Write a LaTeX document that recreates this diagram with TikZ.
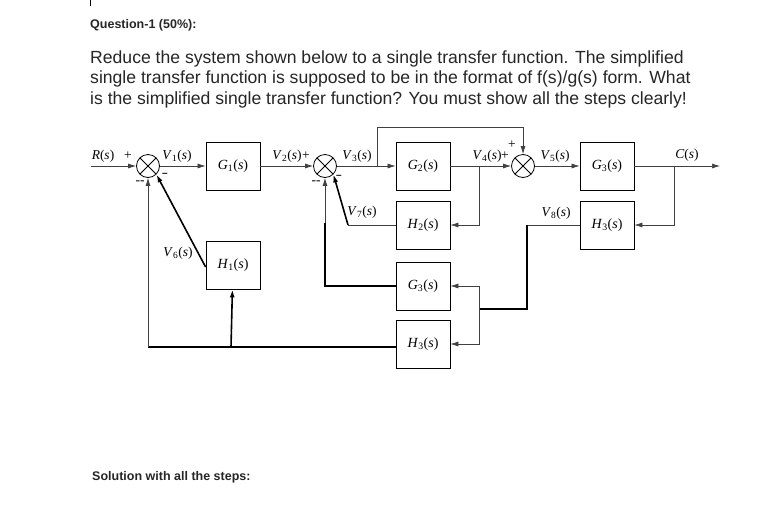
\documentclass[tikz,border=0pt]{standalone}
\usepackage{fontspec}
\setmainfont{Liberation Sans}
\newfontfamily\tms{Liberation Serif}
\usetikzlibrary{arrows.meta}
\newcommand{\tfn}[2]{\textit{#1}\textsubscript{#2}(\textit{s})}
\begin{document}
\begin{tikzpicture}[x=1pt,y=-1pt,
  blk/.style={draw,line width=0.8pt,minimum width=54pt,minimum height=48pt,inner sep=0,font=\tms\fontsize{14}{14}\selectfont},
  sm/.style={draw,circle,line width=0.8pt,minimum size=23pt,inner sep=0,path picture={\draw (path picture bounding box.north west)--(path picture bounding box.south east) (path picture bounding box.north east)--(path picture bounding box.south west);}},
  lb/.style={font=\tms\fontsize{13.5}{13.5}\selectfont,inner sep=1pt},
  ln/.style={line width=0.7pt,draw=black!75},
  tk/.style={line width=1.6pt},
  ar/.style={-{Latex[length=8pt,width=5pt]}},
  txt/.style={anchor=west,inner sep=0,font=\fontsize{17.6}{20}\selectfont,text=black!85}]
\useasboundingbox (0,0) rectangle (767,512);
\fill[white] (0,0) rectangle (767,512);
\draw[line width=0.6pt] (90,0) -- (90,6);
\node[txt,font=\bfseries\fontsize{12.5}{14}\selectfont] (q) at (90,25) {Question-1 (50\%):};
\node[txt] (p1) at (90,59) {Reduce the system shown below to a single transfer function. The simplified};
\node[txt] (p2) at (90,79) {single transfer function is supposed to be in the format of f(s)/g(s) form. What};
\node[txt] (p3) at (90,100) {is the simplified single transfer function? You must show all the steps clearly!};
\node[txt,font=\bfseries\fontsize{12.5}{14}\selectfont] (sol) at (92,477) {Solution with all the steps:};

\node[sm] (s1) at (148,166) {};
\node[sm] (s2) at (325,166) {};
\node[sm] (s3) at (523,166) {};
\node[blk] (g1) at (233,166) {\tfn{G}{1}};
\node[blk] (h1) at (233,265) {\tfn{H}{1}};
\node[blk] (g2) at (423,166) {\tfn{G}{2}};
\node[blk] (h2) at (423,225) {\tfn{H}{2}};
\node[blk] (g3m) at (423,286) {\tfn{G}{3}};
\node[blk] (h3l) at (423,344) {\tfn{H}{3}};
\node[blk] (g3) at (607,166) {\tfn{G}{3}};
\node[blk] (h3) at (607,225) {\tfn{H}{3}};

\coordinate (rin) at (91,166);
\coordinate (cout) at (720,166);
\coordinate (ff) at (377,166);
\coordinate (t4) at (479,166);
\coordinate (tc) at (674,166);
\coordinate (v7) at (348,225);
\coordinate (v8a) at (527,225);
\coordinate (v8b) at (527,309);
\coordinate (v8c) at (479,309);
\coordinate (g3k) at (325,223);
\coordinate (h3a) at (148,347);
\coordinate (h1b) at (231,347);

\draw[ln,ar] (rin) -- (s1);
\draw[ln,ar] (s1) -- (g1);
\draw[ln,ar] (g1) -- (s2);
\draw[ln,ar] (s2) -- (g2);
\draw[ln,ar] (ff) |- (377,127) -| (s3);
\draw[ln,ar] (g2) -- (s3);
\draw[ln,ar] (s3) -- (g3);
\draw[ln,ar] (g3) -- (cout);
\draw[ln,ar] (t4) |- (h2);
\draw[ln,ar] (tc) |- (h3);
\draw[ln] (h3) -| (v8a);
\draw[tk] (v8a) -- (v8b) -- (v8c);
\draw[ln,ar] (v8c) |- (g3m);
\draw[ln,ar] (v8c) |- (h3l);
\draw[ln] (h2) -- (v7);
\draw[tk,ar] (v7) -- (s2.south east);
\draw[tk] (g3m) -| (g3k);
\draw[ln,ar] (g3k) -- (s2);
\draw[tk] (h3l.west |- h3a) -- (h3a);
\draw[ln,ar] (h3a) -- (s1);
\draw[tk,ar] (h1b) -- (h1);
\draw[tk,ar] (h1.west) ++(0,2) -- (s1.south east);

\node[lb] (lr) at (103,156) {\textit{R}(\textit{s})};
\node[lb] (l1) at (177,156) {\tfn{V}{1}};
\node[lb] (l2) at (287,156) {\tfn{V}{2}};
\node[lb] (l3) at (357,156) {\tfn{V}{3}};
\node[lb] (l4) at (487,156) {\tfn{V}{4}};
\node[lb] (l5) at (555,156) {\tfn{V}{5}};
\node[lb] (lc) at (687,155) {\textit{C}(\textit{s})};
\node[lb] (l6) at (178,253) {\tfn{V}{6}};
\node[lb] (l7) at (362,212) {\tfn{V}{7}};
\node[lb] (l8) at (556,213) {\tfn{V}{8}};
\node[lb] (a1) at (128,156) {+};
\node[lb] (a2) at (140,183) {--};
\node[lb,font=\bfseries] (a3) at (165,175) {--};
\node[lb] (b1) at (306,156) {+};
\node[lb] (b2) at (316,183) {--};
\node[lb,font=\bfseries] (b3) at (339,177) {--};
\node[lb] (c1) at (512,145) {+};
\node[lb] (c2) at (505,156) {+};
\end{tikzpicture}
\end{document}
